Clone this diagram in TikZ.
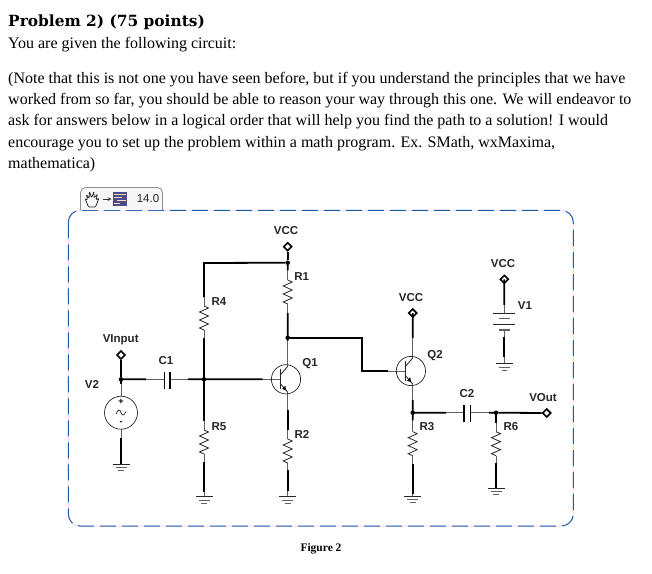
\documentclass[tikz,border=0pt]{standalone}
\usepackage{fontspec}
\setmainfont{Liberation Serif}
\setsansfont{Liberation Sans}
\newfontfamily\headfont{DejaVu Serif}
\usetikzlibrary{calc,shapes.geometric}
\definecolor{framecol}{HTML}{1F5CA8}
\definecolor{framepink}{HTML}{F3DDF6}
\tikzset{
	wire/.style={line width=1.8pt, color=black},
	thinwire/.style={line width=0.8pt, color=black!62},
	lead/.style={line width=0.8pt, color=black!85},
	junction/.style={circle, fill=black, inner sep=0pt, minimum size=4.5pt},
	terminal/.style={diamond, draw=black, fill=white, line width=1.6pt, inner sep=0pt, minimum size=8.5pt},
	label/.style={font=\sffamily\bfseries\fontsize{11.5}{12}\selectfont, color=black!85, inner sep=0pt},
	bodyline/.style={anchor=base west, inner sep=0pt, font=\fontsize{16}{18}\selectfont, color=black},
}
\def\midwire(#1)(#2)(#3:#4){\draw[thinwire] (#1) -- (#2); \draw[wire] ($(#1)!#3!(#2)$) -- ($(#1)!#4!(#2)$);}
\def\resistor(#1){\draw[lead] (#1) -- ++(4.5,2) -- ++(-9,4) -- ++(9,4) -- ++(-9,4) -- ++(9,4) -- ++(-9,4) -- ++(4.5,2);}
\def\ground(#1){
	\draw[lead] ($(#1)+(-8.5,0)$) -- ($(#1)+(8.5,0)$);
	\draw[thinwire] ($(#1)+(-5.5,3.3)$) -- ($(#1)+(5.5,3.3)$);
	\draw[thinwire] ($(#1)+(-2.8,6.3)$) -- ($(#1)+(2.8,6.3)$);
}
\def\transistor(#1){
	\draw[lead, line width=0.7pt] (#1) circle (14.6);
	\draw[lead] ($(#1)+(-6,-10)$) -- ($(#1)+(-6,9.5)$);
	\draw[lead] ($(#1)+(-6,-4)$) -- ($(#1)+(1.8,-13)$);
	\draw[lead] ($(#1)+(-6,4)$) -- ($(#1)+(1.8,13)$);
	\fill[black] ($(#1)+(0.2,11.2)$) -- ($(#1)+(-3.8,9.6)$) -- ($(#1)+(-0.6,6.4)$) -- cycle;
}

\begin{document}
\begin{tikzpicture}[x=1pt, y=-1pt]
	%%%%% START %%%%%
	\path[use as bounding box] (0,0) rectangle (652,573);

	% text above the circuit
	\node[anchor=base west, inner sep=0pt, font=\headfont\bfseries\fontsize{15.4}{18}\selectfont] (title) at (8,26) {Problem 2) (75 points)};
	\node[bodyline] (lineA) at (8,48) {You are given the following circuit:};
	\node[bodyline] (lineB) at (8,83) {(Note that this is not one you have seen before, but if you understand the principles that we have};
	\node[bodyline] (lineC) at (8,104) {worked from so far, you should be able to reason your way through this one. We will endeavor to};
	\node[bodyline] (lineD) at (8,125.5) {ask for answers below in a logical order that will help you find the path to a solution! I would};
	\node[bodyline] (lineE) at (8,147) {encourage you to set up the problem within a math program. Ex. SMath, wxMaxima,};
	\node[bodyline] (lineF) at (8,168) {mathematica)};

	% frame and tab
	\draw[line width=1pt, color=framepink, rounded corners=12] (68.3,210.3) rectangle (573.3,526);
	\draw[line width=1pt, color=framecol, rounded corners=12, dash pattern=on 16pt off 6pt] (68.3,210.3) rectangle (573.3,526);
	\draw[line width=0.8pt, draw=black!45, fill=black!3, rounded corners=5] (80.5,210) -- (80.5,187.5) -- (162.5,187.5) -- (162.5,210);
	\draw[line width=0.8pt, color=black!80, line cap=round, rounded corners=1]
		(88.5,207) -- (85,198.5) -- (87.5,200) -- (86.5,194.5) -- (89,198.5) -- (89.5,191.5) -- (91.5,198) -- (94,191.5) -- (94,198) -- (97.5,194) -- (96,200) -- (99,198) -- (95.5,207) -- cycle;
	\draw[line width=0.7pt, color=black!80, ->, >=stealth] (102.5,199) -- (111.5,199);
	\fill[color=blue!35!black!70!white] (113,191.5) rectangle (127,206);
	\foreach \yy/\xa/\xb in {194/114/126, 197/114/122, 200/117/126, 203/114/120}
		\draw[line width=0.9pt, color=orange!30!white] (\xa,\yy) -- (\xb,\yy);
	\node[inner sep=0pt, font=\sffamily\fontsize{11.5}{12}\selectfont, color=black!85] (zoomval) at (148,199) {14.0};

	% named points
	\node[terminal] (vccA) at (287.7,246.7) {};
	\node[terminal] (vccB) at (412.7,313) {};
	\node[terminal] (vccC) at (504.3,279.3) {};
	\node[terminal] (vin) at (121,355) {};
	\node[terminal] (vout) at (546.7,413) {};
	\node[junction] (jTop) at (287.7,262.7) {};
	\node[junction] (jMid) at (287.7,337.7) {};
	\node[junction] (jIn) at (121,379.3) {};
	\node[junction] (jBase) at (204,379.3) {};
	\node[junction] (jEmit) at (412.7,412.7) {};
	\node[junction] (jOut) at (496,412.7) {};

	\coordinate (topLeft) at (204,263);
	\coordinate (r1a) at (287.7,280);
	\coordinate (r1b) at (287.7,304);
	\coordinate (r4a) at (204,306);
	\coordinate (r4b) at (204,330);
	\coordinate (r5a) at (204,430);
	\coordinate (r5b) at (204,454);
	\coordinate (r2a) at (287.7,439);
	\coordinate (r2b) at (287.7,463);
	\coordinate (r3a) at (412.7,431.7);
	\coordinate (r3b) at (412.7,455.7);
	\coordinate (r6a) at (496,431.7);
	\coordinate (r6b) at (496,455.7);
	\coordinate (gndV) at (121,464);
	\coordinate (gndA) at (204,496.7);
	\coordinate (gndB) at (287.7,496.7);
	\coordinate (gndC) at (412.7,496);
	\coordinate (gndD) at (496,488.3);
	\coordinate (gndE) at (504.3,363.7);
	\coordinate (q1) at (286,379.3);
	\coordinate (q1c) at (287.7,366.3);
	\coordinate (q1e) at (287.7,392.3);
	\coordinate (q1b) at (280,379.3);
	\coordinate (q2) at (410.9,371);
	\coordinate (q2c) at (412.7,358);
	\coordinate (q2e) at (412.7,384);
	\coordinate (q2b) at (404.9,371);
	\coordinate (turnA) at (362,337.7);
	\coordinate (turnB) at (362,371);
	\coordinate (c1l) at (164.7,379.3);
	\coordinate (c1r) at (170,379.3);
	\coordinate (c2l) at (464,412.7);
	\coordinate (c2r) at (470.7,412.7);
	\coordinate (srcT) at (121,396.2);
	\coordinate (srcB) at (121,429.2);
	\coordinate (batT) at (504.3,313.3);
	\coordinate (batB) at (504.3,330);

	% wires
	\draw[wire] (vccA) -- (jTop);
	\draw[wire] (jTop) -- (topLeft) -- (204,297);
	\midwire(jTop)(r1a)(0:0.45)
	\midwire(r1b)(jMid)(0.27:1)
	\midwire(jMid)(q1c)(0:0.1)
	\midwire(q1e)(r2a)(0.38:0.8)
	\midwire(r2b)(gndB)(0.22:0.82)
	\midwire(204,297)(r4a)(0:0)
	\midwire(r4b)(jBase)(0.16:1)
	\midwire(jBase)(r5a)(0:0.83)
	\midwire(r5b)(gndA)(0.19:0.88)
	\midwire(jBase)(q1b)(0:0.77)
	\midwire(c1r)(jBase)(0.53:1)
	\midwire(jIn)(c1l)(0:0.57)
	\draw[wire] (vin) -- (jIn);
	\midwire(jIn)(srcT)(0:0.3)
	\midwire(srcB)(gndV)(0.26:1)
	\draw[wire] (jMid) -- (turnA) -- (turnB) -- (388,371);
	\midwire(388,371)(q2b)(0:0)
	\midwire(vccB)(q2c)(0:0.56)
	\midwire(q2e)(jEmit)(0.55:1)
	\midwire(jEmit)(r3a)(0:0.4)
	\midwire(r3b)(gndC)(0.2:0.95)
	\midwire(jEmit)(c2l)(0:0.65)
	\midwire(c2r)(jOut)(0.73:1)
	\draw[wire] (jOut) -- (vout);
	\midwire(jOut)(r6a)(0:0.55)
	\midwire(r6b)(gndD)(0.22:1)
	\midwire(vccC)(batT)(0:0.75)
	\midwire(batB)(gndE)(0.2:0.8)

	% parts
	\resistor(r1a)
	\resistor(r4a)
	\resistor(r5a)
	\resistor(r2a)
	\resistor(r3a)
	\resistor(r6a)
	\transistor(q1)
	\transistor(q2)
	\ground(gndV)
	\ground(gndA)
	\ground(gndB)
	\ground(gndC)
	\ground(gndD)
	\ground(gndE)

	\draw[line width=1.1pt] (164.7,371.7) -- (164.7,389);
	\draw[line width=1.1pt] (170,371.7) -- (170,389);
	\draw[line width=1.1pt] (464,405) -- (464,421.7);
	\draw[line width=1.1pt] (470.7,405) -- (470.7,421.7);

	\draw[lead] (493.3,313.3) -- (515.3,313.3);
	\draw[thinwire, line width=1.1pt] (499,318.7) -- (510,318.7);
	\draw[lead] (493.3,324.3) -- (515.3,324.3);
	\draw[thinwire, line width=1.1pt] (499,330) -- (510,330);

	\draw[lead, line width=0.7pt] (121,412.7) circle (16.5);
	\draw[lead, line width=0.7pt] (116,414) .. controls (118,409) and (120,409) .. (121,412.7) .. controls (122,416) and (124,416) .. (126,411.5);
	\node[inner sep=0pt, font=\sffamily\bfseries\fontsize{9}{9}\selectfont] (plus) at (121,402) {+};
	\node[inner sep=0pt, font=\sffamily\bfseries\fontsize{9}{9}\selectfont] (minus) at (121,423.5) {-};

	% labels
	\node[label] (vccAlab) at (286,231) {VCC};
	\node[label] (vccBlab) at (411,298) {VCC};
	\node[label] (vccClab) at (503,264) {VCC};
	\node[label] (vinlab) at (120.7,340) {VInput};
	\node[label] (voutlab) at (543,398) {VOut};
	\node[label] (v1lab) at (525,306) {V1};
	\node[label] (v2lab) at (92,384) {V2};
	\node[label] (c1lab) at (166,361) {C1};
	\node[label] (c2lab) at (467,394) {C2};
	\node[label] (r1lab) at (301.7,276.7) {R1};
	\node[label] (r2lab) at (302,434.5) {R2};
	\node[label] (r3lab) at (427,426.5) {R3};
	\node[label] (r4lab) at (219,301.5) {R4};
	\node[label] (r5lab) at (219,426.5) {R5};
	\node[label] (r6lab) at (511,426.5) {R6};
	\node[label] (q1lab) at (310,364) {Q1};
	\node[label] (q2lab) at (435,356) {Q2};

	\node[inner sep=0pt, font=\bfseries\fontsize{11.5}{12}\selectfont] (figlab) at (321,549) {Figure 2};
	%%%%% END %%%%%
\end{tikzpicture}
\end{document}
